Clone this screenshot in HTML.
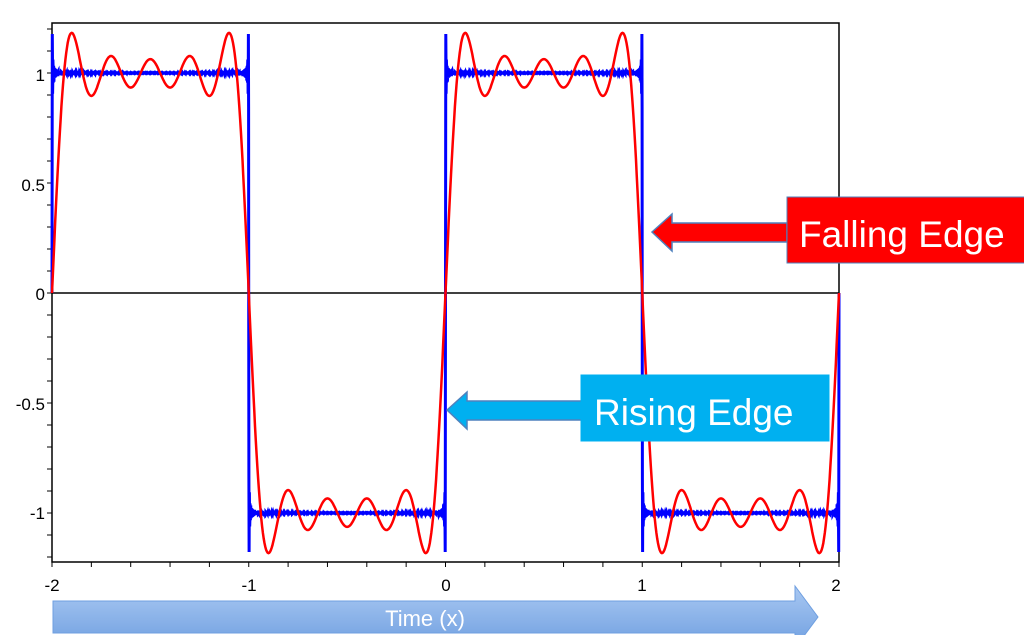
<!DOCTYPE html>
<html><head><meta charset="utf-8"><style>
html,body{margin:0;padding:0;background:#fff;width:1024px;height:635px;overflow:hidden}
svg{display:block;font-family:"Liberation Sans",sans-serif}
</style></head><body>
<svg id="s" width="1024" height="635" viewBox="0 0 1024 635">
<defs>
<linearGradient id="g" x1="0" y1="0" x2="0" y2="1">
<stop offset="0" stop-color="#a9c8f2"/><stop offset="1" stop-color="#6f9fe0"/>
</linearGradient>
</defs>
<rect x="52" y="23" width="787" height="539" fill="none" stroke="#000" stroke-width="1.5"/>
<line x1="52" y1="293" x2="839" y2="293" stroke="#000" stroke-width="1.5"/>
<g id="ticks" stroke="#000" stroke-width="1"></g>
<g font-size="17" fill="#000">
<text x="45" y="81" text-anchor="end">1</text>
<text x="45" y="191" text-anchor="end">0.5</text>
<text x="45" y="300" text-anchor="end">0</text>
<text x="45" y="410" text-anchor="end">-0.5</text>
<text x="45" y="519" text-anchor="end">-1</text>
<text x="52" y="591" text-anchor="middle">-2</text>
<text x="249" y="591" text-anchor="middle">-1</text>
<text x="446" y="591" text-anchor="middle">0</text>
<text x="642" y="591" text-anchor="middle">1</text>
<text x="836" y="591" text-anchor="middle">2</text>
</g>
<path id="blue" fill="none" stroke="#0000ff" stroke-width="3"/>
<path id="red" fill="none" stroke="#ff0000" stroke-width="2.5"/>
<path d="M652,232 L672,214 L672,223 L787,223 L787,242 L672,242 L672,251 Z" fill="#ff0000" stroke="#4f81bd" stroke-width="1.5"/>
<rect x="787" y="197" width="240" height="66" fill="#ff0000" stroke="#4f81bd" stroke-width="1"/>
<text x="799" y="247" font-size="37" fill="#fff">Falling Edge</text>
<path d="M447,410 L467,392 L467,401 L582,401 L582,420 L467,420 L467,429 Z" fill="#00b0f0" stroke="#4f81bd" stroke-width="1.5"/>
<rect x="581" y="375" width="248" height="66" fill="#00b0f0" stroke="#00b0f0"/>
<text x="594" y="425" font-size="37" fill="#fff">Rising Edge</text>
<path d="M53,601 L795,601 L795,586 L818,617 L795,648 L795,633 L53,633 Z" fill="url(#g)" stroke="#6f9fe0"/>
<text x="425" y="626" font-size="22" fill="#fff" text-anchor="middle">Time (x)</text>
</svg>
<script>
var X=function(x){return 52+(x+2)*196.75},Y=function(y){return 293-y*220};
var t='';
for(var i=0;i<=20;i++){var x=X(-2+i*0.2);t+='<line x1="'+x+'" y1="562" x2="'+x+'" y2="567"/>';}
for(var j=-12;j<=12;j++){var y=Y(j*0.1);if(y>23&&y<562)t+='<line x1="47" y1="'+y+'" x2="52" y2="'+y+'"/>';}
document.getElementById('ticks').innerHTML=t;
function f(x,N){var s=0;for(var k=1;k<=N;k++){var n=2*k-1;s+=Math.sin(n*Math.PI*x)/n;}return s*4/Math.PI;}
function path(N,step){var d='';for(var x=-2;x<=2.0001;x+=step){var v=f(x,N);v=Math.max(-1.2,Math.min(1.2,v));d+=(d?'L':'M')+X(x).toFixed(1)+','+Y(v).toFixed(1);}return d;}
document.getElementById('red').setAttribute('d',path(5,0.004));
document.getElementById('blue').setAttribute('d',path(300,0.0008));
</script>
</body></html>
